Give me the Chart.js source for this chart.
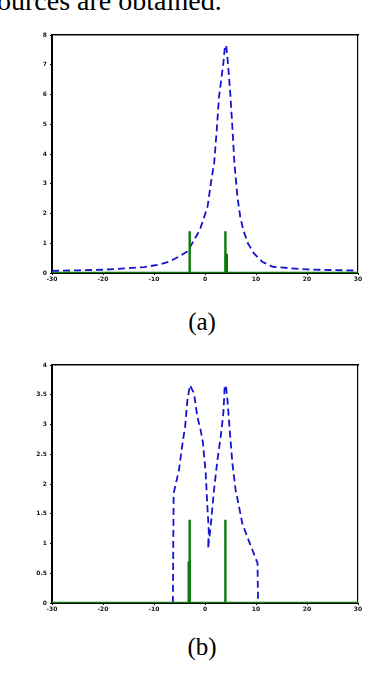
<!DOCTYPE html>
<html>
<head>
<meta charset="utf-8">
<script src="https://cdn.jsdelivr.net/npm/chart.js@4"></script>
<style>
html,body{margin:0;padding:0;background:#fff;width:372px;height:678px;overflow:hidden;}
.wrap{position:absolute;left:0;width:372px;}
.txt{position:absolute;font-family:"Liberation Serif","Times New Roman",serif;color:#000;white-space:nowrap;}
</style>
</head>
<body>
<div class="txt" id="top" style="left:-3px;top:-15px;font-size:28px;">ources are obtained.</div>
<div class="wrap" style="top:0;height:290px;"><canvas id="ca" width="372" height="290"></canvas></div>
<div class="txt" style="left:0;width:404px;text-align:center;top:308px;font-size:25px;">(a)</div>
<div class="wrap" style="top:340px;height:280px;"><canvas id="cb" width="372" height="280"></canvas></div>
<div class="txt" style="left:0;width:404px;text-align:center;top:633px;font-size:25px;">(b)</div>
<script>
// ---- data ----
const xTicksA = [-30, -20, -10, 0, 10, 20, 30];
const yTicksA = [0, 1, 2, 3, 4, 5, 6, 7, 8];
const yTicksB = [0, 0.5, 1, 1.5, 2, 2.5, 3, 3.5, 4];
const sourcePositions = [-3, 4];
const sourceHeights = [1.4, 1.4];
const spectrumA = [
  [-30,0.07],[-25,0.09],[-20,0.11],[-15,0.16],[-12,0.2],[-9.3,0.27],[-7,0.38],[-5.1,0.55],
  [-3.5,0.72],[-2.5,1.0],[-1,1.45],[0.5,2.23],[1.25,3.13],[1.8,3.7],[2.3,4.8],[2.75,5.93],
  [3.6,7.05],[3.9,7.6],[4.15,7.66],[4.5,7.05],[5.0,5.93],[5.4,4.8],[5.77,3.7],[6.35,2.57],[6.9,1.9],
  [7.5,1.45],[8.4,1.0],[9.6,0.66],[11.2,0.38],[13.3,0.21],[16.7,0.16],[20,0.12],[25,0.1],[30,0.08]
];
const spectrumB = [
  [-30,0],[-6.3,0],[-6.15,1.84],[-5.1,2.24],[-4.4,2.69],[-3.9,2.96],[-3.45,3.41],[-2.94,3.66],
  [-2.15,3.52],[-1.5,3.13],[-0.84,2.9],[-0.4,2.69],[0.14,2.18],[0.47,1.62],[0.75,1.2],[0.6,0.92],
  [1.1,1.28],[1.77,1.9],[2.43,2.4],[3.08,2.8],[3.6,3.19],[3.86,3.64],[4.1,3.66],[4.4,3.41],
  [4.85,2.9],[5.37,2.35],[6.0,1.9],[6.67,1.62],[7.3,1.34],[8.3,1.11],[9.3,0.89],[10.3,0.67],[10.4,0],[30,0]
];
const lowStemA = [[4.2, 0.65]];
const lowStemB = [[-3.12, 0.7], [4.12, 0.7]];

// ---- helpers ----
const GREEN = '#0a7a0a';
const BLUE = '#1414d2';
function stemLine(pos, h) {
  const pts = [{x: -30, y: 0}];
  pos.forEach((p, i) => { pts.push({x: p, y: 0}, {x: p, y: h[i]}, {x: p, y: 0}); });
  pts.push({x: 30, y: 0});
  return pts;
}
function lowStems(arr) {
  const pts = [];
  arr.forEach(([x, y]) => { pts.push({x: x, y: 0}, {x: x, y: y}, {x: NaN, y: NaN}); });
  return pts;
}
function toXY(arr) { return arr.map(([x, y]) => ({x, y})); }

function makeChart(id, spectrum, lows, yMax, yTicks, padTop) {
  const tickFont = {family: 'DejaVu Sans', size: 6, weight: 'bold'};
  return new Chart(document.getElementById(id), {
    type: 'line',
    data: {
      datasets: [
        {data: stemLine(sourcePositions, sourceHeights), borderColor: GREEN, borderWidth: 2.4, pointRadius: 0, tension: 0, order: 0},
        {data: lowStems(lows), borderColor: GREEN, borderWidth: 3.2, pointRadius: 0, tension: 0, spanGaps: false, order: 1},
        {data: toXY(spectrum), borderColor: BLUE, borderWidth: 1.8, borderDash: [7, 4], pointRadius: 0, tension: 0, order: 2}
      ]
    },
    options: {
      responsive: false,
      animation: false,
      parsing: false,
      normalized: false,
      layout: {padding: {top: padTop, right: 14, left: 0, bottom: 0}},
      plugins: {legend: {display: false}, tooltip: {enabled: false}},
      scales: {
        x: {
          type: 'linear', min: -30, max: 30,
          afterBuildTicks: s => { s.ticks = xTicksA.map(v => ({value: v})); },
          ticks: {font: tickFont, color: '#111', padding: 1, maxRotation: 0, autoSkip: false, callback: v => String(v)},
          grid: {drawOnChartArea: false, tickLength: 2, color: '#000', lineWidth: 1},
          border: {display: true, color: '#000', width: 1},
          afterFit: s => { s.height = 17; }
        },
        y: {
          type: 'linear', min: 0, max: yMax,
          afterBuildTicks: s => { s.ticks = yTicks.map(v => ({value: v})); },
          ticks: {font: tickFont, color: '#111', padding: 3, autoSkip: false, callback: v => String(v)},
          grid: {drawOnChartArea: false, tickLength: 2, color: '#000', lineWidth: 1},
          border: {display: true, color: '#000', width: 2},
          afterFit: s => { s.width = 52; }
        },
        x2: {
          type: 'linear', position: 'top', min: -30, max: 30,
          ticks: {display: false}, grid: {display: false},
          border: {display: true, color: '#000', width: 1.5},
          afterFit: s => { s.height = 0; }
        },
        y2: {
          type: 'linear', position: 'right', min: 0, max: yMax,
          ticks: {display: false}, grid: {display: false},
          border: {display: true, color: '#000', width: 1.2},
          afterFit: s => { s.width = 0; }
        }
      }
    }
  });
}
makeChart('ca', spectrumA, lowStemA, 8, yTicksA, 35);
makeChart('cb', spectrumB, lowStemB, 4, yTicksB, 25);
</script>
</body>
</html>
